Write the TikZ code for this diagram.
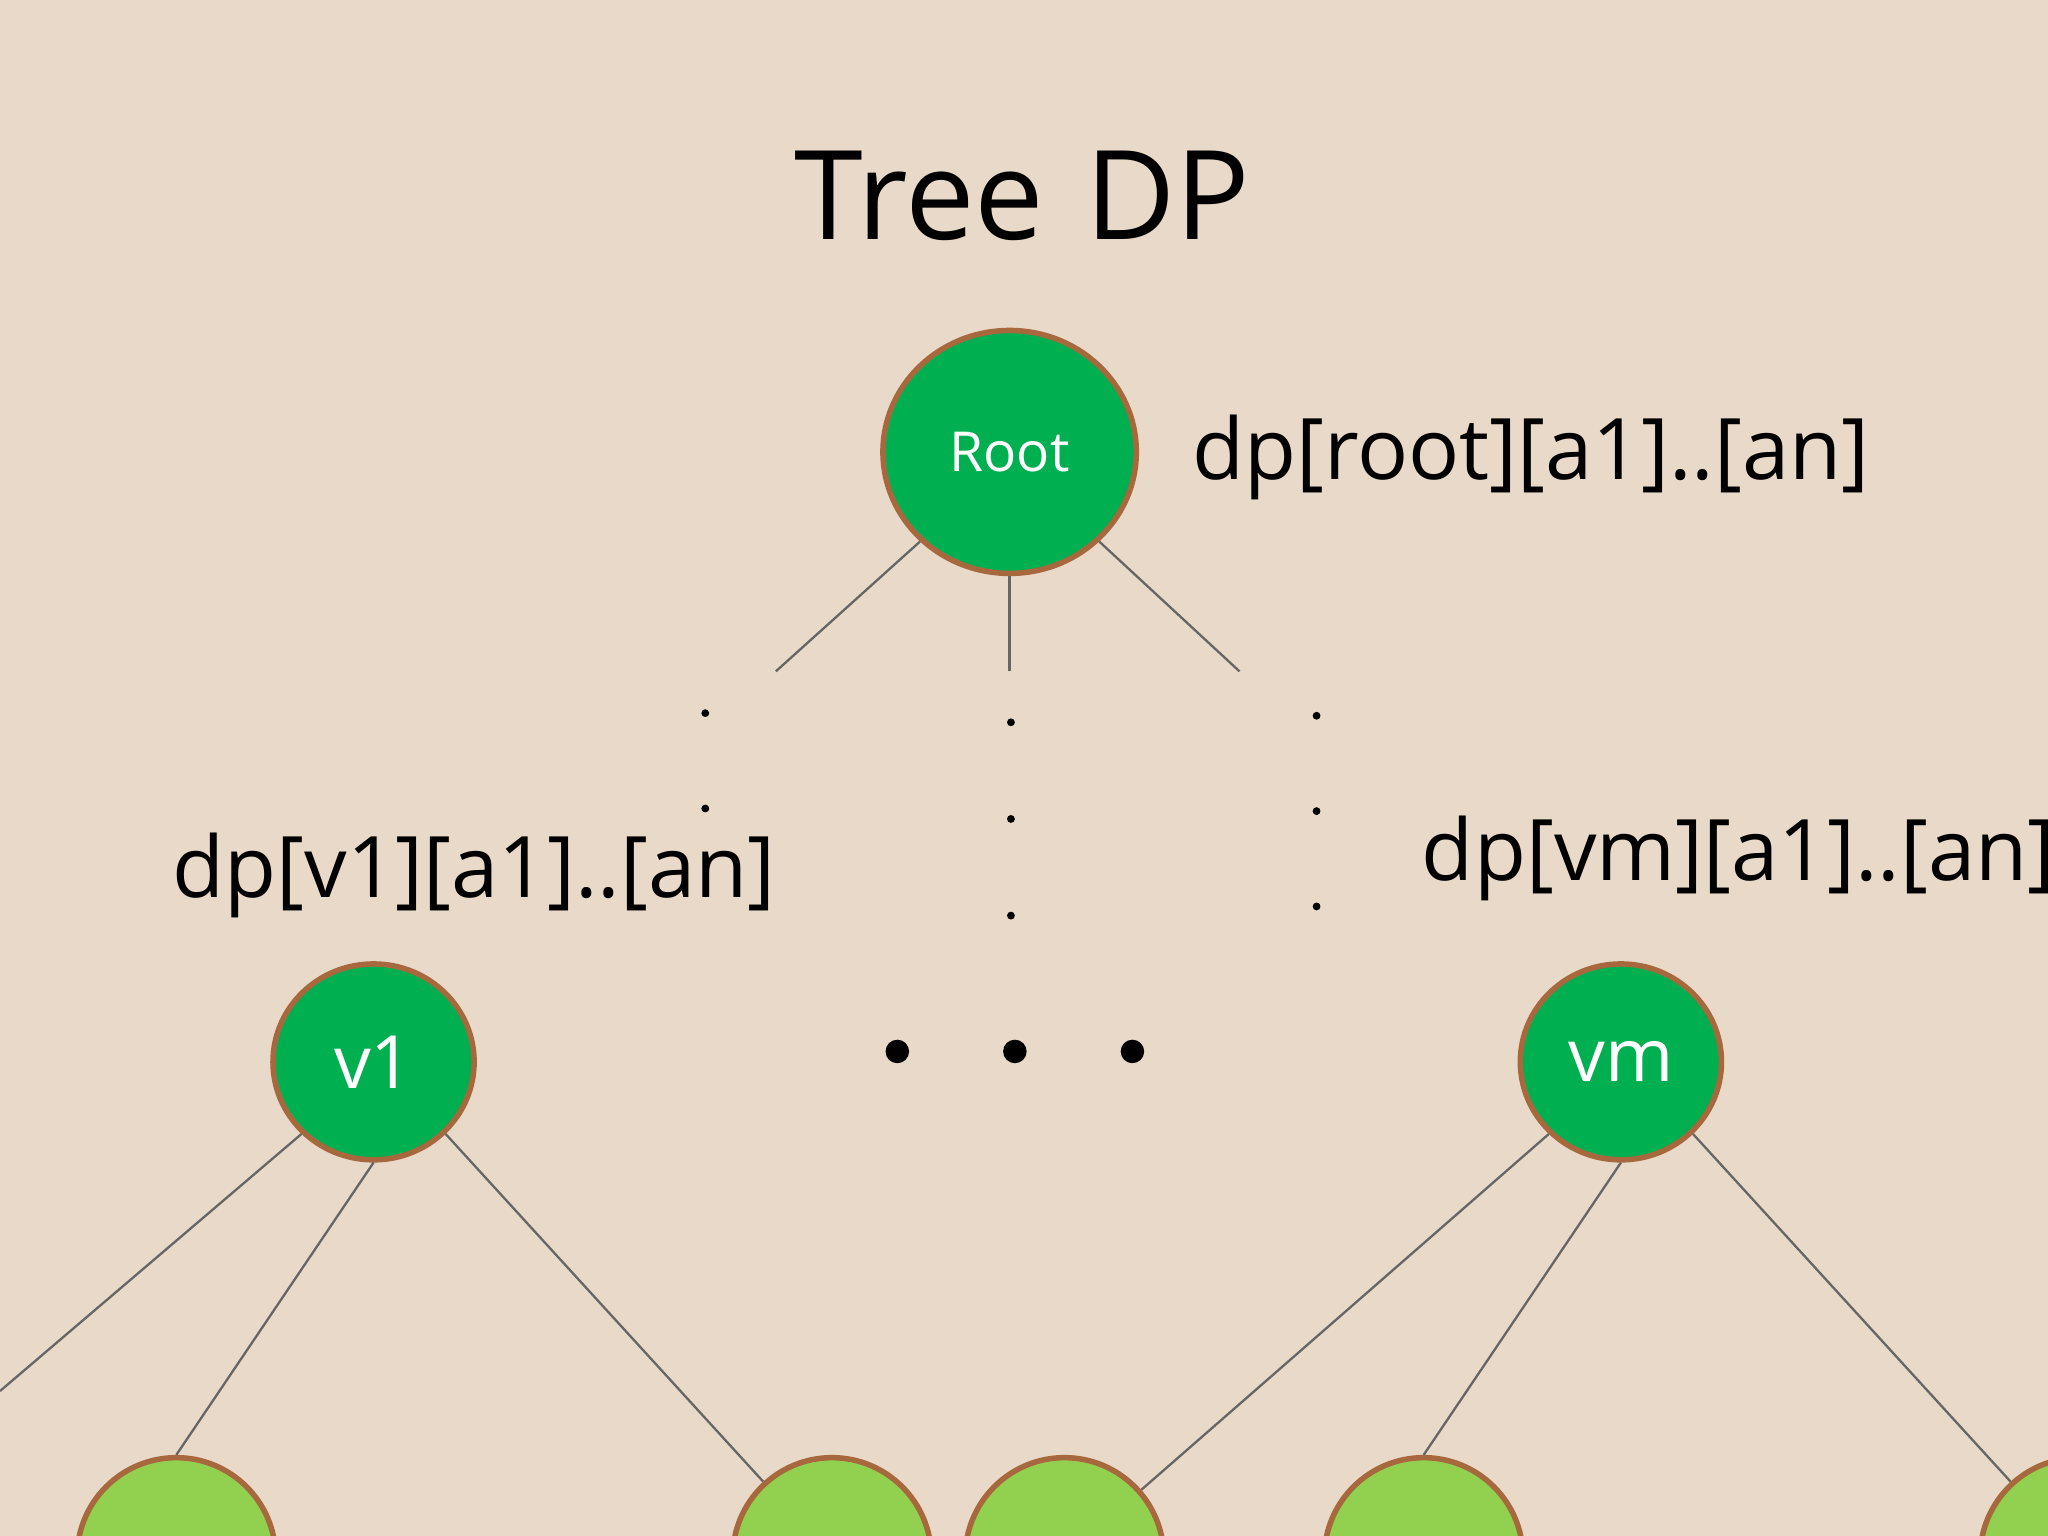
\documentclass[tikz,border=0pt]{standalone}
\usepackage{fontspec}
\usetikzlibrary{shapes.geometric}
\setmainfont{Open Sans}
\definecolor{bg}{HTML}{E8D9C8}
\definecolor{dkg}{HTML}{00B050}
\definecolor{ltg}{HTML}{92D050}
\definecolor{brd}{HTML}{A8683E}
\begin{document}
\begin{tikzpicture}[x=0.1mm,y=-0.1mm,
  dk/.style={ellipse,draw=brd,line width=1.2pt,fill=dkg,text=white,inner sep=0pt},
  lt/.style={circle,draw=brd,line width=1.2pt,fill=ltg,minimum size=15.2mm,inner sep=0pt},
  edge/.style={draw=gray!80!black,line width=0.5pt},
  sdot/.style={circle,fill=black,inner sep=0pt,minimum size=0.6mm},
  bdot/.style={circle,fill=black,inner sep=0pt,minimum size=1.8mm},
  lab/.style={font=\fontsize{18.5}{22}\selectfont,inner sep=0pt}]
\useasboundingbox (0,0) rectangle (1568,1176);
\clip (0,0) rectangle (1568,1176);
\fill[bg] (0,0) rectangle (1568,1176);
\node[font=\fontsize{27}{32}\selectfont] (title) at (783,150) {Tree\,\,DP};
\node[dk,minimum width=19.4mm,minimum height=18.6mm,font=\fontsize{12}{14}\selectfont] (root) at (773,346) {Root};
\node[lab,anchor=west] (lr) at (912,350) {dp[root][a1]..[an]};
\coordinate (e1) at (594,514); \coordinate (e2) at (773,514); \coordinate (e3) at (949,514);
\draw[edge] (root.-135) -- (e1); \draw[edge] (root.south) -- (e2); \draw[edge] (root.-45) -- (e3);
\foreach \p in {(540,546),(540,619),(774,553),(774,627),(774,701),(1008,548),(1008,621),(1008,694)} \node[sdot] at \p {};
\node[lab] (l1) at (363,670) {dp[v1][a1]..[an]};
\node[lab,anchor=west] (lm) at (1088,657) {dp[vm][a1]..[an]};
\node[dk,minimum width=15.4mm,minimum height=15mm,font=\fontsize{16}{19}\selectfont] (v1) at (286,813) {v1};
\node[dk,minimum width=15.4mm,minimum height=15mm,font=\fontsize{16}{19}\selectfont] (vm) at (1241,813) {vm};
\foreach \x/\n in {687/d1,777/d2,867/d3} \node[bdot] (\n) at (\x,805) {};
\node[lt] (a) at (135,1192) {};
\node[lt] (b) at (637,1192) {};
\node[lt] (c) at (815,1192) {};
\node[lt] (d) at (1090,1192) {};
\node[lt] (e) at (1592,1192) {};
\coordinate (z) at (0,1065);
\draw[edge] (v1.-135) -- (z); \draw[edge] (v1.south) -- (a.north); \draw[edge] (v1.-45) -- (b);
\draw[edge] (vm.-135) -- (c); \draw[edge] (vm.south) -- (d.north); \draw[edge] (vm.-45) -- (e);
\end{tikzpicture}
\end{document}
